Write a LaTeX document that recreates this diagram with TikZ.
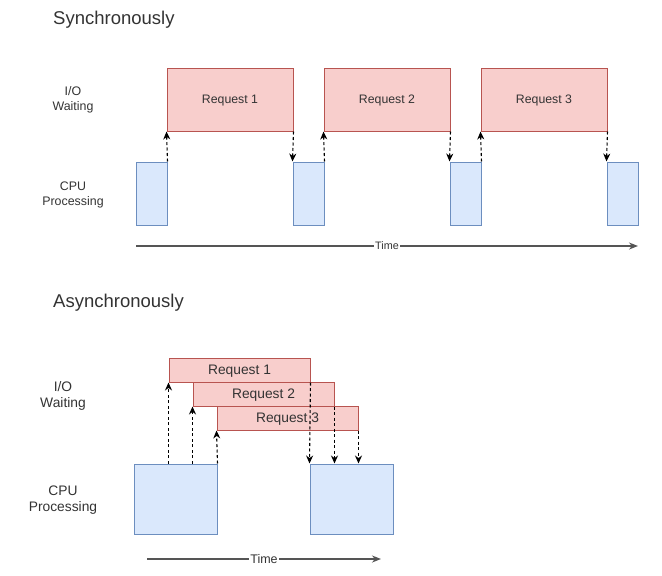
\documentclass[tikz,border=0pt]{standalone}
\usepackage{fontspec}
\setmainfont{Liberation Sans}
\usetikzlibrary{arrows.meta}
\definecolor{reqfill}{HTML}{F8CECC}
\definecolor{reqline}{HTML}{B85450}
\definecolor{cpufill}{HTML}{DAE8FC}
\definecolor{cpuline}{HTML}{6C8EBF}
\definecolor{txt}{HTML}{333333}
\definecolor{axisline}{HTML}{555555}

\begin{document}
\begin{tikzpicture}[x=1pt, y=-1pt,
  every node/.style={text=txt, inner sep=0pt},
  title/.style={anchor=west, font=\fontsize{18.5}{20}\selectfont},
  lbl/.style={align=center, font=\fontsize{12.4}{15}\selectfont},
  lblb/.style={align=center, font=\fontsize{13.8}{16}\selectfont},
  req/.style={draw=reqline, fill=reqfill, line width=1pt, text depth=0pt, font=\fontsize{12.3}{14}\selectfont},
  cpu/.style={draw=cpuline, fill=cpufill, line width=1pt},
  call/.style={line width=1.1pt, dash pattern=on 3pt off 2.5pt, -{Stealth[length=8pt,width=7pt]}},
  timeline/.style={draw=axisline, line width=1.5pt, -{Stealth[length=9pt,width=7pt]}},
  tick/.style={fill=white, inner xsep=1pt}]

\useasboundingbox (0,0) rectangle (662,576);

% Synchronously
\node[title] (tsync) at (53,20) {Synchronously};
\node[lbl] (ioA) at (73,100) {I/O\\Waiting};
\node[lbl] (procA) at (73,195) {CPU\\Processing};

\node[req, minimum width=126, minimum height=63] (reqA1) at (230,99.5) {Request 1};
\node[req, minimum width=126, minimum height=63] (reqA2) at (387,99.5) {Request 2};
\node[req, minimum width=126, minimum height=63] (reqA3) at (544,99.5) {Request 3};

\node[cpu, minimum width=31, minimum height=63] (cpuA1) at (151.5,193.5) {};
\node[cpu, minimum width=31, minimum height=63] (cpuA2) at (308.5,193.5) {};
\node[cpu, minimum width=31, minimum height=63] (cpuA3) at (465.5,193.5) {};
\node[cpu, minimum width=31, minimum height=63] (cpuA4) at (622.5,193.5) {};

\draw[call] (cpuA1.north east) -- (reqA1.south west);
\draw[call] (reqA1.south east) -- (cpuA2.north west);
\draw[call] (cpuA2.north east) -- (reqA2.south west);
\draw[call] (reqA2.south east) -- (cpuA3.north west);
\draw[call] (cpuA3.north east) -- (reqA3.south west);
\draw[call] (reqA3.south east) -- (cpuA4.north west);

\coordinate (timeA0) at (136,246);
\coordinate (timeA1) at (638,246);
\draw[timeline] (timeA0) -- (timeA1) node[tick, midway, font=\fontsize{10.8}{12}\selectfont] (timeA) {Time};

% Asynchronously
\node[title] (tasync) at (53,303) {Asynchronously};
\node[lblb] (ioB) at (63,396) {I/O\\Waiting};
\node[lblb] (procB) at (63,500) {CPU\\Processing};

\node[req, minimum width=141, minimum height=24, font=\fontsize{13.8}{16}\selectfont] (reqB1) at (239.5,370) {Request 1};
\node[req, minimum width=141, minimum height=24, font=\fontsize{13.8}{16}\selectfont] (reqB2) at (263.5,394) {Request 2};
\node[req, minimum width=141, minimum height=24, font=\fontsize{13.8}{16}\selectfont] (reqB3) at (287.5,418) {Request 3};

\node[cpu, minimum width=83, minimum height=70] (cpuB1) at (175.5,499) {};
\node[cpu, minimum width=83, minimum height=70] (cpuB2) at (351.5,499) {};

\draw[call] (reqB1.south west |- cpuB1.north) -- (reqB1.south west);
\draw[call] (reqB2.south west |- cpuB1.north) -- (reqB2.south west);
\draw[call] (cpuB1.north east) -- (reqB3.south west);
\draw[call] (reqB1.south east) -- (cpuB2.north west);
\draw[call] (reqB2.south east) -- (reqB2.south east |- cpuB2.north);
\draw[call] (reqB3.south east) -- (reqB3.south east |- cpuB2.north);

\coordinate (timeB0) at (147,559);
\coordinate (timeB1) at (381,559);
\draw[timeline] (timeB0) -- (timeB1) node[tick, midway, font=\fontsize{12.5}{14}\selectfont] (timeB) {Time};

\end{tikzpicture}
\end{document}
